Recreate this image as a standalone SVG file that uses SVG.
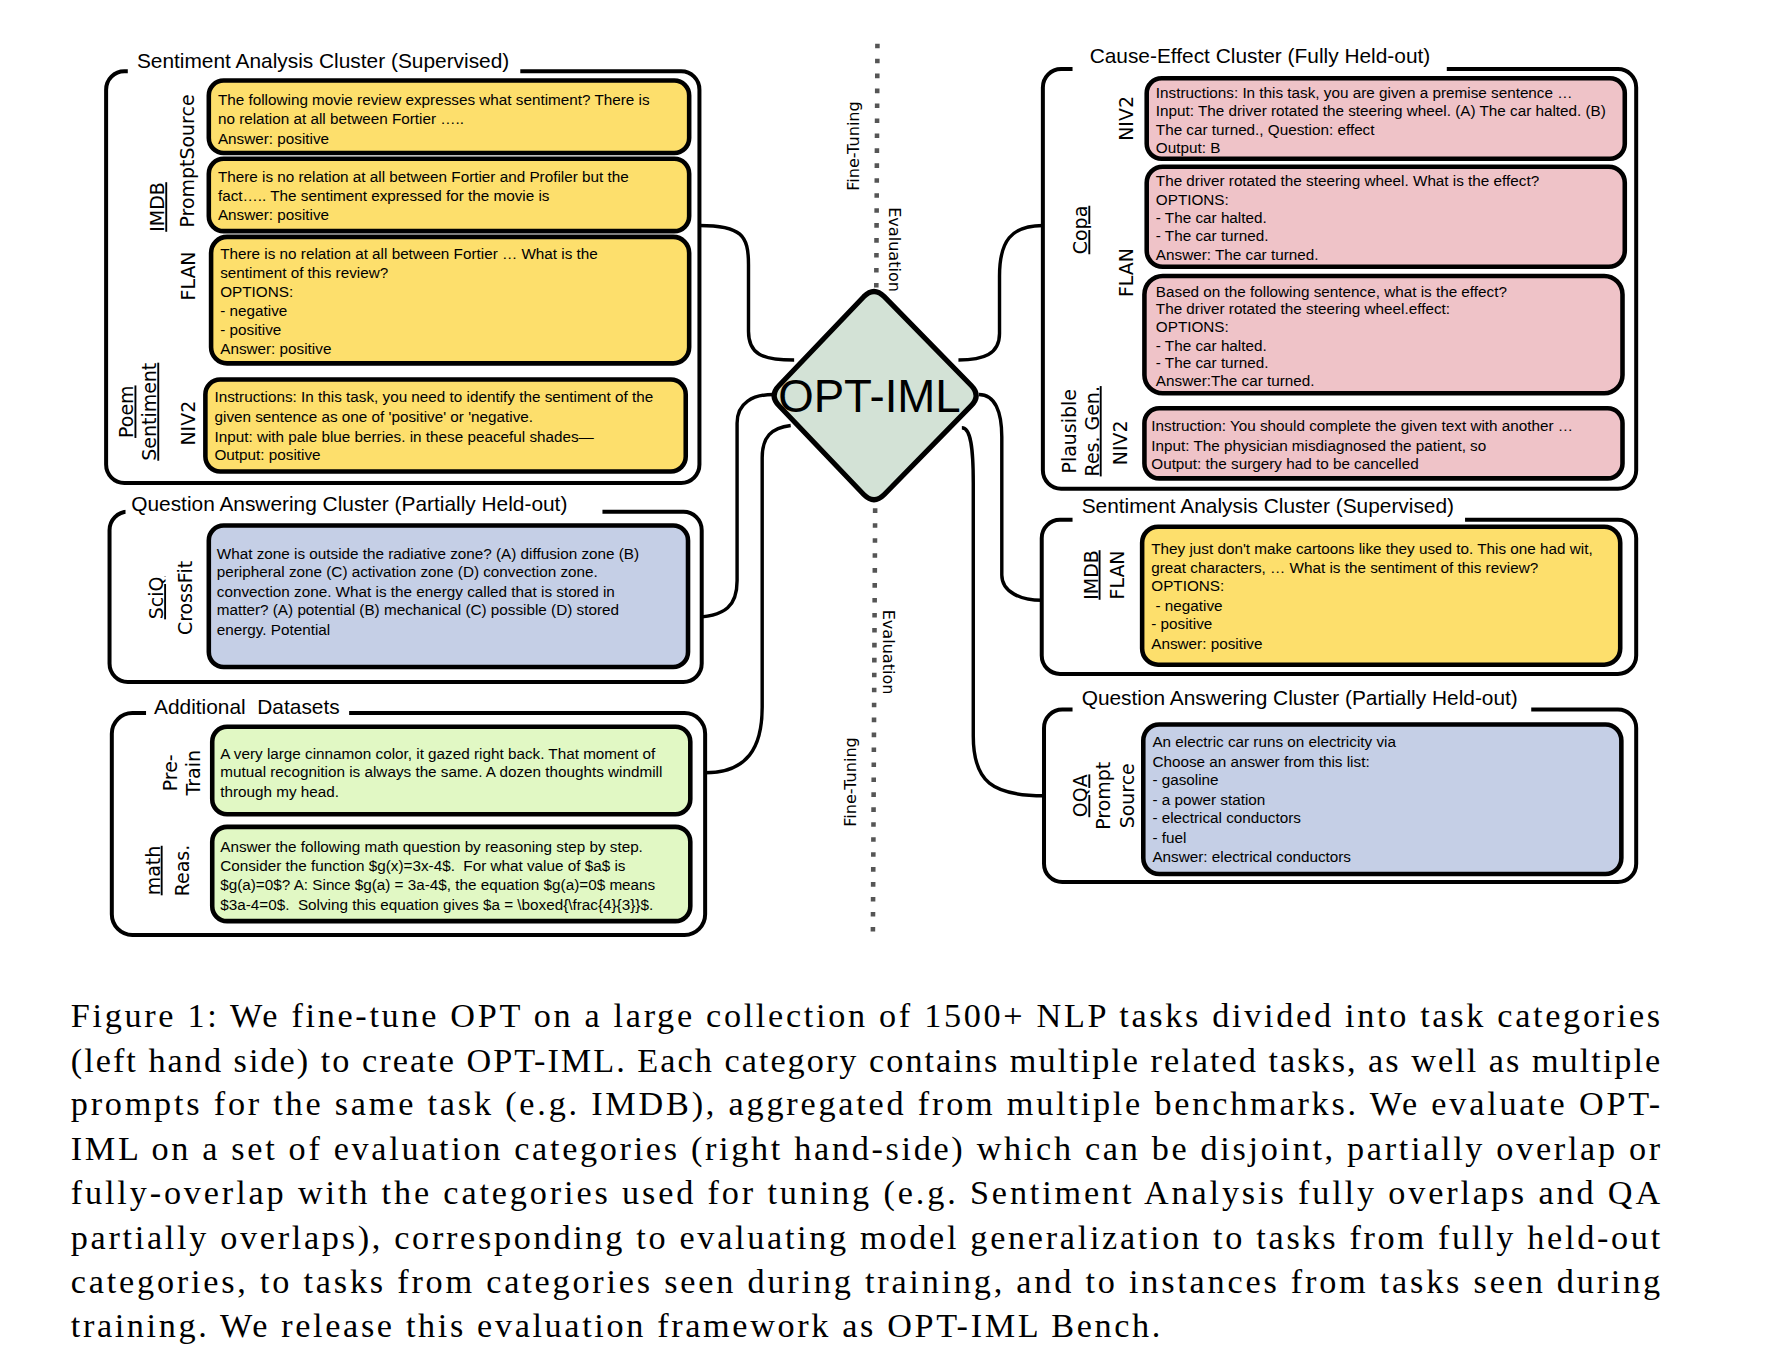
<svg xmlns="http://www.w3.org/2000/svg" width="1789" height="1370" viewBox="0 0 1789 1370">
<style>
.outer{fill:#fff;stroke:#000;stroke-width:3.5}
.inner{stroke:#000;stroke-width:4}
.y{fill:#fddf6c}.p{fill:#efc3c8}.b{fill:#c5cfe6}.g{fill:#e1f8c4}
.t{font-family:"Liberation Sans",Arial,sans-serif;font-size:13.4px;fill:#000}
.ti{font-family:"Liberation Sans",Arial,sans-serif;font-size:18.3px;fill:#000}
.lb{font-family:"DejaVu Sans","Liberation Sans",sans-serif;font-size:16.5px;fill:#000;text-anchor:middle}
.u{text-decoration:underline}
.conn{fill:none;stroke:#000;stroke-width:3}
.cap{font-family:"Liberation Serif","Times New Roman",serif;font-size:30px;fill:#000}
.sm{font-family:"DejaVu Sans","Liberation Sans",sans-serif;font-size:14px;fill:#000;text-anchor:middle}
</style>
<rect width="1789" height="1370" fill="#fff"/>
<g transform="scale(1.141,1.150)">
<g id="divider">
<line x1="769" y1="38" x2="768" y2="252" stroke="#555" stroke-width="4" stroke-dasharray="4 9"/>
<line x1="767" y1="442" x2="765" y2="818" stroke="#555" stroke-width="4" stroke-dasharray="4 9"/>
<text class="sm" transform="translate(753,127) rotate(-90)">Fine-Tuning</text>
<text class="sm" transform="translate(779,217) rotate(90)">Evaluation</text>
<text class="sm" transform="translate(774,567) rotate(90)">Evaluation</text>
<text class="sm" transform="translate(750,680) rotate(-90)">Fine-Tuning</text>
</g>
<g id="connectors">
<path class="conn" d="M613,196 C650,196 656,205 656,230 L656,288 C656,308 668,313 696,313"/>
<path class="conn" d="M604,537 C638,537 646,525 646,505 L646,368 C646,350 660,343 678,343"/>
<path class="conn" d="M618,672 C655,672 668,650 668,615 L668,398 C668,380 676,372 693,370"/>
<path class="conn" d="M914,196 C886,196 876,210 876,240 L876,290 C876,308 862,313 840,313"/>
<path class="conn" d="M858,343 C872,343 878,358 878,380 L878,500 C878,515 895,522 913,522"/>
<path class="conn" d="M843,372 C851,372 853,390 853,420 L853,640 C853,680 870,692 915,692"/>
</g>
<g id="opt-iml">
<path d="M757,258 Q766,249 775,258 L851,335 Q860,344 851,353 L775,430 Q766,439 757,430 L683,353 Q674,344 683,335 Z" fill="#d3e2d6" stroke="#000" stroke-width="4.5"/>
<text x="762" y="358" font-family="Liberation Sans,Arial,sans-serif" font-size="40" text-anchor="middle">OPT-IML</text>
</g>

<g id="left-sentiment">
<rect class="outer" x="93" y="62" width="520" height="358" rx="16"/>
<rect x="112" y="50" width="344" height="20" fill="#fff"/>
<text class="ti" x="120" y="59">Sentiment Analysis Cluster (Supervised)</text>
<rect class="inner y" x="183" y="70" width="421" height="63" rx="13"/>
<text class="t" x="191" y="91">The following movie review expresses what sentiment? There is</text>
<text class="t" x="191" y="108">no relation at all between Fortier …..</text>
<text class="t" x="191" y="125">Answer: positive</text>
<rect class="inner y" x="183" y="138" width="421" height="63" rx="13"/>
<text class="t" x="191" y="158">There is no relation at all between Fortier and Profiler but the</text>
<text class="t" x="191" y="175">fact….. The sentiment expressed for the movie is</text>
<text class="t" x="191" y="191">Answer: positive</text>
<rect class="inner y" x="185" y="206" width="419" height="110" rx="14"/>
<text class="t" x="193" y="225">There is no relation at all between Fortier … What is the</text>
<text class="t" x="193" y="242">sentiment of this review?</text>
<text class="t" x="193" y="258">OPTIONS:</text>
<text class="t" x="193" y="275">- negative</text>
<text class="t" x="193" y="291">- positive</text>
<text class="t" x="193" y="308">Answer: positive</text>
<rect class="inner y" x="180" y="330" width="421" height="80" rx="13"/>
<text class="t" x="188" y="350">Instructions: In this task, you need to identify the sentiment of the</text>
<text class="t" x="188" y="367">given sentence as one of 'positive' or 'negative.</text>
<text class="t" x="188" y="384">Input: with pale blue berries. in these peaceful shades—</text>
<text class="t" x="188" y="400">Output: positive</text>
<text class="lb u" transform="translate(144,180) rotate(-90)">IMDB</text>
<text class="lb" transform="translate(170,140) rotate(-90)">PromptSource</text>
<text class="lb" transform="translate(171,240) rotate(-90)">FLAN</text>
<text class="lb u" transform="translate(117,358) rotate(-90)">Poem</text>
<text class="lb u" transform="translate(137,358) rotate(-90)">Sentiment</text>
<text class="lb" transform="translate(171,368) rotate(-90)">NIV2</text>
</g>

<g id="left-qa">
<rect class="outer" x="96" y="445" width="519" height="148" rx="16"/>
<rect x="110" y="432" width="418" height="20" fill="#fff"/>
<text class="ti" x="115" y="444">Question Answering Cluster (Partially Held-out)</text>
<rect class="inner b" x="183" y="457" width="420" height="123" rx="13"/>
<text class="t" x="190" y="486">What zone is outside the radiative zone? (A) diffusion zone (B)</text>
<text class="t" x="190" y="502">peripheral zone (C) activation zone (D) convection zone.</text>
<text class="t" x="190" y="519">convection zone. What is the energy called that is stored in</text>
<text class="t" x="190" y="535">matter? (A) potential (B) mechanical (C) possible (D) stored</text>
<text class="t" x="190" y="552">energy. Potential</text>
<text class="lb u" transform="translate(143,520) rotate(-90)">SciQ</text>
<text class="lb" transform="translate(168,520) rotate(-90)">CrossFit</text>
</g>

<g id="left-additional">
<rect class="outer" x="98" y="620" width="520" height="193" rx="18"/>
<rect x="128" y="606" width="178" height="20" fill="#fff"/>
<text class="ti" x="135" y="621" xml:space="preserve">Additional  Datasets</text>
<rect class="inner g" x="186" y="632" width="419" height="76" rx="13"/>
<text class="t" x="193" y="660">A very large cinnamon color, it gazed right back. That moment of</text>
<text class="t" x="193" y="676">mutual recognition is always the same. A dozen thoughts windmill</text>
<text class="t" x="193" y="693">through my head.</text>
<rect class="inner g" x="186" y="719" width="419" height="82" rx="13"/>
<text class="t" x="193" y="741">Answer the following math question by reasoning step by step.</text>
<text class="t" x="193" y="757" xml:space="preserve">Consider the function $g(x)=3x-4$.  For what value of $a$ is</text>
<text class="t" x="193" y="774">$g(a)=0$? A: Since $g(a) = 3a-4$, the equation $g(a)=0$ means</text>
<text class="t" x="193" y="791" xml:space="preserve">$3a-4=0$.  Solving this equation gives $a = \boxed{\frac{4}{3}}$.</text>
<text class="lb" transform="translate(155,672) rotate(-90)">Pre-</text>
<text class="lb" transform="translate(175,672) rotate(-90)">Train</text>
<text class="lb u" transform="translate(140,757) rotate(-90)">math</text>
<text class="lb" transform="translate(166,757) rotate(-90)">Reas.</text>
</g>

<g id="right-cause-effect">
<rect class="outer" x="914" y="60" width="520" height="365" rx="16"/>
<rect x="940" y="46" width="328" height="20" fill="#fff"/>
<text class="ti" x="955" y="55">Cause-Effect Cluster (Fully Held-out)</text>
<rect class="inner p" x="1005" y="68" width="419" height="70" rx="13"/>
<text class="t" x="1013" y="85">Instructions: In this task, you are given a premise sentence …</text>
<text class="t" x="1013" y="101">Input: The driver rotated the steering wheel. (A) The car halted. (B)</text>
<text class="t" x="1013" y="117">The car turned., Question: effect</text>
<text class="t" x="1013" y="133">Output: B</text>
<rect class="inner p" x="1005" y="145" width="419" height="87" rx="14"/>
<text class="t" x="1013" y="162">The driver rotated the steering wheel. What is the effect?</text>
<text class="t" x="1013" y="178">OPTIONS:</text>
<text class="t" x="1013" y="194">- The car halted.</text>
<text class="t" x="1013" y="210">- The car turned.</text>
<text class="t" x="1013" y="226">Answer: The car turned.</text>
<rect class="inner p" x="1003" y="240" width="419" height="102" rx="16"/>
<text class="t" x="1013" y="258">Based on the following sentence, what is the effect?</text>
<text class="t" x="1013" y="273">The driver rotated the steering wheel.effect:</text>
<text class="t" x="1013" y="289">OPTIONS:</text>
<text class="t" x="1013" y="305">- The car halted.</text>
<text class="t" x="1013" y="320">- The car turned.</text>
<text class="t" x="1013" y="336">Answer:The car turned.</text>
<rect class="inner p" x="1003" y="355" width="419" height="61" rx="13"/>
<text class="t" x="1009" y="375">Instruction: You should complete the given text with another …</text>
<text class="t" x="1009" y="392">Input: The physician misdiagnosed the patient, so</text>
<text class="t" x="1009" y="408">Output: the surgery had to be cancelled</text>
<text class="lb" transform="translate(993,103) rotate(-90)">NIV2</text>
<text class="lb u" transform="translate(953,200) rotate(-90)">Copa</text>
<text class="lb" transform="translate(993,237) rotate(-90)">FLAN</text>
<text class="lb" transform="translate(943,375) rotate(-90)">Plausible</text>
<text class="lb u" transform="translate(963,375) rotate(-90)">Res. Gen.</text>
<text class="lb" transform="translate(988,385) rotate(-90)">NIV2</text>
</g>

<g id="right-sentiment">
<rect class="outer" x="913" y="452" width="521" height="134" rx="16"/>
<rect x="940" y="438" width="344" height="20" fill="#fff"/>
<text class="ti" x="948" y="446">Sentiment Analysis Cluster (Supervised)</text>
<rect class="inner y" x="1001" y="458" width="419" height="120" rx="14"/>
<text class="t" x="1009" y="482">They just don't make cartoons like they used to. This one had wit,</text>
<text class="t" x="1009" y="498">great characters, … What is the sentiment of this review?</text>
<text class="t" x="1009" y="514">OPTIONS:</text>
<text class="t" x="1009" y="531" xml:space="preserve"> - negative</text>
<text class="t" x="1009" y="547">- positive</text>
<text class="t" x="1009" y="564">Answer: positive</text>
<text class="lb u" transform="translate(962,500) rotate(-90)">IMDB</text>
<text class="lb" transform="translate(985,500) rotate(-90)">FLAN</text>
</g>

<g id="right-qa">
<rect class="outer" x="915" y="617" width="519" height="150" rx="16"/>
<rect x="940" y="603" width="402" height="20" fill="#fff"/>
<text class="ti" x="948" y="613">Question Answering Cluster (Partially Held-out)</text>
<rect class="inner b" x="1002" y="630" width="419" height="130" rx="14"/>
<text class="t" x="1010" y="650">An electric car runs on electricity via</text>
<text class="t" x="1010" y="667">Choose an answer from this list:</text>
<text class="t" x="1010" y="683">- gasoline</text>
<text class="t" x="1010" y="700">- a power station</text>
<text class="t" x="1010" y="716">- electrical conductors</text>
<text class="t" x="1010" y="733">- fuel</text>
<text class="t" x="1010" y="750">Answer: electrical conductors</text>
<text class="lb u" transform="translate(953,692) rotate(-90)">OQA</text>
<text class="lb" transform="translate(973,692) rotate(-90)">Prompt</text>
<text class="lb" transform="translate(994,692) rotate(-90)">Source</text>
</g>

<g id="caption">
<text class="cap" x="62" y="893" textLength="1393" lengthAdjust="spacing">Figure 1: We fine-tune OPT on a large collection of 1500+ NLP tasks divided into task categories</text>
<text class="cap" x="62" y="932" textLength="1393" lengthAdjust="spacing">(left hand side) to create OPT-IML. Each category contains multiple related tasks, as well as multiple</text>
<text class="cap" x="62" y="970" textLength="1393" lengthAdjust="spacing">prompts for the same task (e.g. IMDB), aggregated from multiple benchmarks. We evaluate OPT-</text>
<text class="cap" x="62" y="1009" textLength="1393" lengthAdjust="spacing">IML on a set of evaluation categories (right hand-side) which can be disjoint, partially overlap or</text>
<text class="cap" x="62" y="1047" textLength="1393" lengthAdjust="spacing">fully-overlap with the categories used for tuning (e.g. Sentiment Analysis fully overlaps and QA</text>
<text class="cap" x="62" y="1086" textLength="1393" lengthAdjust="spacing">partially overlaps), corresponding to evaluating model generalization to tasks from fully held-out</text>
<text class="cap" x="62" y="1124" textLength="1393" lengthAdjust="spacing">categories, to tasks from categories seen during training, and to instances from tasks seen during</text>
<text class="cap" x="62" y="1163" textLength="955" lengthAdjust="spacing">training. We release this evaluation framework as OPT-IML Bench.</text>
</g>
</g>
</svg>
